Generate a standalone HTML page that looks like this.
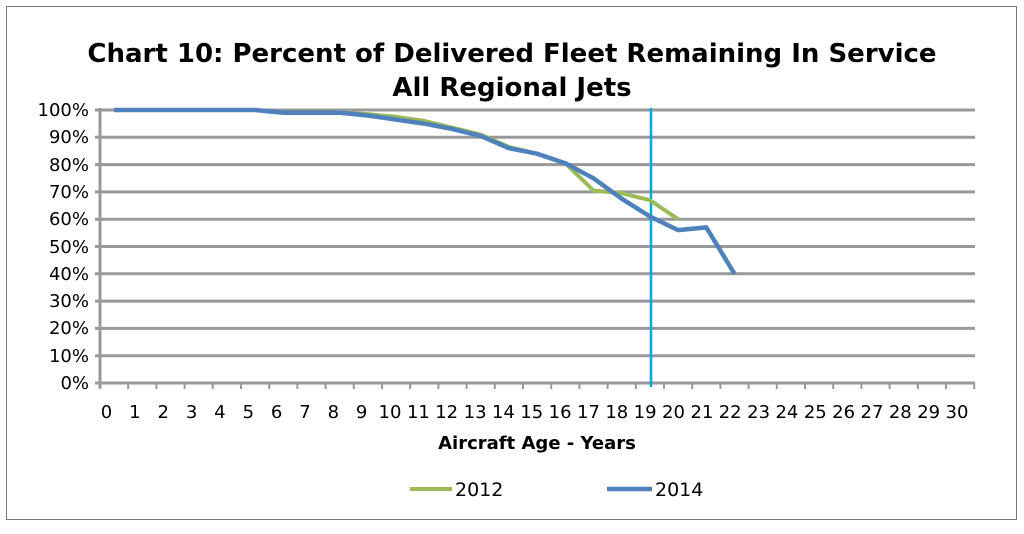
<!DOCTYPE html>
<html><head><meta charset="utf-8"><style>
html,body{margin:0;padding:0;background:#fff;}
svg text{font-family:"DejaVu Sans","Liberation Sans",sans-serif;}
</style></head><body>
<svg width="1024" height="529" xmlns="http://www.w3.org/2000/svg">
<rect x="6.5" y="6.5" width="1010" height="513" fill="#fff" stroke="#777" stroke-width="1"/>
<text x="512" y="62" text-anchor="middle" font-size="26" font-weight="bold">Chart 10: Percent of Delivered Fleet Remaining In Service</text>
<text x="512" y="96" text-anchor="middle" font-size="26" font-weight="bold">All Regional Jets</text>
<g stroke="#999" stroke-width="3">
<line x1="95" y1="110" x2="975" y2="110"/><line x1="95" y1="137.3" x2="975" y2="137.3"/><line x1="95" y1="164.6" x2="975" y2="164.6"/><line x1="95" y1="191.9" x2="975" y2="191.9"/><line x1="95" y1="219.2" x2="975" y2="219.2"/><line x1="95" y1="246.5" x2="975" y2="246.5"/><line x1="95" y1="273.8" x2="975" y2="273.8"/><line x1="95" y1="301.1" x2="975" y2="301.1"/><line x1="95" y1="328.4" x2="975" y2="328.4"/><line x1="95" y1="355.7" x2="975" y2="355.7"/><line x1="95" y1="383" x2="975" y2="383"/>
<line x1="100" y1="108" x2="100" y2="388"/>
</g>
<g id="ticks" stroke="#999" stroke-width="2"></g>
<g font-size="18" text-anchor="end" fill="#000">
<text x="89" y="116">100%</text><text x="89" y="143">90%</text><text x="89" y="171">80%</text><text x="89" y="198">70%</text><text x="89" y="225">60%</text><text x="89" y="253">50%</text><text x="89" y="280">40%</text><text x="89" y="307">30%</text><text x="89" y="334">20%</text><text x="89" y="362">10%</text><text x="89" y="389">0%</text>
</g>
<g id="xl" font-size="18" text-anchor="middle"></g>
<text x="537" y="449" text-anchor="middle" font-size="18" font-weight="bold">Aircraft Age - Years</text>
<line x1="651" y1="108" x2="651" y2="387" stroke="#00a8e8" stroke-width="2.5"/>
<polyline id="g12" fill="none" stroke="#9bbb59" stroke-width="4" stroke-linejoin="round"/>
<polyline id="g14" fill="none" stroke="#4f81bd" stroke-width="4.5" stroke-linejoin="round"/>
<line x1="410" y1="489" x2="452" y2="489" stroke="#9bbb59" stroke-width="4"/>
<text x="455" y="496" font-size="19">2012</text>
<line x1="607" y1="489" x2="652" y2="489" stroke="#4f81bd" stroke-width="4.5"/>
<text x="655" y="496" font-size="19">2014</text>
</svg>
<script>
var ns="http://www.w3.org/2000/svg",w=28.2;
var t=document.getElementById("ticks"),xl=document.getElementById("xl");
for(var i=0;i<=31;i++){var l=document.createElementNS(ns,"line");var x=100+w*i;l.setAttribute("x1",x);l.setAttribute("x2",x);l.setAttribute("y1",383);l.setAttribute("y2",389);t.appendChild(l);}
for(var i=0;i<=30;i++){var s=document.createElementNS(ns,"text");s.setAttribute("x",(106.5+28.35*i).toFixed(1));s.setAttribute("y",418);s.textContent=i;xl.appendChild(s);}
function pts(a){return a.map(function(v,i){return (100+w*(i+0.5)).toFixed(1)+","+(383-2.73*v).toFixed(1)}).join(" ");}
var d14=[100,100,100,100,100,100,99,99,99,98,96.5,95,93,90.5,86,84,80.5,75,67.5,61,56,57,40];
var d12=[100,100,100,100,100,100,99,99,99,98.5,97.5,96,93.5,91,86.5,84,80.5,70.5,69.5,67,60];
document.getElementById("g12").setAttribute("points",pts(d12));
document.getElementById("g14").setAttribute("points",pts(d14));
</script>
</body></html>
